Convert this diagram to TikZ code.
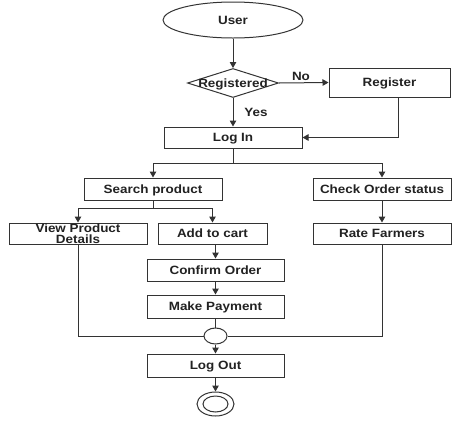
\documentclass[tikz,border=0pt]{standalone}
\usepackage{fontspec}
\newfontfamily\labfont[FakeStretch=1.12]{Liberation Sans}
\usetikzlibrary{shapes.geometric,arrows.meta,positioning,calc}
\definecolor{linec}{HTML}{333333}
\definecolor{textc}{HTML}{222222}
\tikzset{
  fnt/.style={font=\labfont\bfseries\fontsize{12}{11}\selectfont},
  base/.style={draw=linec, line width=1pt, text=textc, inner sep=0pt, fnt},
  box/.style={base, rectangle, align=center, text height=8.6pt, text depth=0.4pt},
  conn/.style={draw=linec, line width=1pt},
  arr/.style={conn, -{Triangle[length=6pt,width=6.5pt]}},
  lbl/.style={text=textc, fnt, inner sep=0pt}
}
\begin{document}
\begin{tikzpicture}[x=1pt,y=-1pt]
\useasboundingbox[fill=white] (0,0) rectangle (474,424);
\node[base, ellipse, minimum width=140pt, minimum height=36pt] (user) at (233,20) {User};
\node[base, diamond, minimum width=91pt, minimum height=29pt, label={[lbl, text height=8.6pt, text depth=0.4pt]center:Registered}] (reg) at (233,83) {};
\node[box, minimum width=121pt, minimum height=29pt] (register) at (389.5,82.5) {Register};
\node[box, minimum width=138pt, minimum height=21pt] (login) at (233,137.5) {Log In};
\node[box, minimum width=138pt, minimum height=22pt] (search) at (153,189) {Search product};
\node[box, minimum width=138pt, minimum height=22pt] (check) at (382,189) {Check Order status};
\node[box, minimum width=138pt, minimum height=21pt, text height=19.6pt] (view) at (78,233.5) {View Product\\Details};
\node[box, minimum width=109pt, minimum height=21pt] (cart) at (212.5,233.5) {Add to cart};
\node[box, minimum width=138pt, minimum height=21pt] (rate) at (382,233.5) {Rate Farmers};
\node[box, minimum width=137pt, minimum height=22pt] (confirm) at (215.5,270) {Confirm Order};
\node[box, minimum width=137pt, minimum height=23pt] (pay) at (215.5,306.5) {Make Payment};
\node[base, ellipse, minimum width=23pt, minimum height=16pt] (merge) at (215.5,336) {};
\node[box, minimum width=137pt, minimum height=23pt] (logout) at (215.5,365.5) {Log Out};
\node[base, ellipse, minimum width=37pt, minimum height=24pt] (endo) at (215.5,404) {};
\node[base, ellipse, minimum width=25pt, minimum height=16pt] (endi) at (215.5,404) {};
\node[lbl] (nolbl) at (301,76) {No};
\node[lbl] (yeslbl) at (256,112) {Yes};
\coordinate (regdown) at ($(register.south)+(8.5,0)$);
% connectors
\draw[arr] (user) -- (reg);
\draw[arr] (reg.east) -- (register.west);
\draw[arr] (reg.south) -- (login.north);
\draw[arr] (regdown) |- (login.east);
\coordinate (split1) at ($(login.south)+(0,15)$);
\draw[conn] (login.south) -- (split1);
\draw[arr] (split1) -| (search.north);
\draw[arr] (split1) -| (check.north);
\coordinate (split2) at ($(search.south)+(0,8)$);
\draw[conn] (search.south) -- (split2);
\draw[arr] (split2) -| (view.north);
\draw[arr] (split2) -| (cart.north);
\draw[arr] (check.south) -- (rate.north);
\draw[arr] (cart.south -| confirm.north) -- (confirm.north);
\draw[arr] (confirm.south) -- (pay.north);
\draw[conn] (pay.south) -- (merge.north);
\draw[conn] (view.south) |- (merge.west);
\draw[conn] (rate.south) |- (merge.east);
\draw[arr] (merge.south) -- (logout.north);
\draw[arr] (logout.south) -- (endo.north);
\end{tikzpicture}
\end{document}
